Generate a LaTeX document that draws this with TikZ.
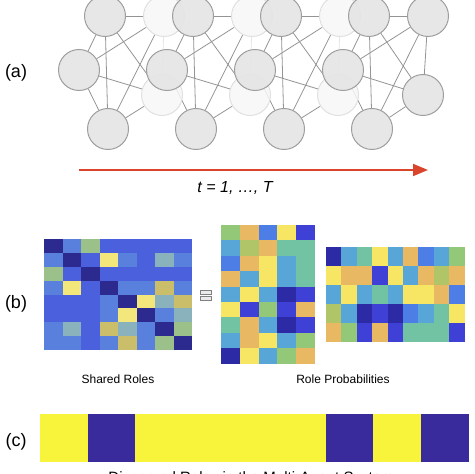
\documentclass[tikz,border=0pt]{standalone}
\usepackage{fontspec}
\setmainfont{Liberation Sans}
\usetikzlibrary{arrows.meta, backgrounds}

\definecolor{timered}{HTML}{D9442B}
\definecolor{srN}{HTML}{2C2A8E}
\definecolor{srB}{HTML}{4A60DC}
\definecolor{srL}{HTML}{5A80DE}
\definecolor{srG}{HTML}{9CC08A}
\definecolor{srA}{HTML}{8AB2BC}
\definecolor{srY}{HTML}{F3E67A}
\definecolor{srK}{HTML}{CABE6A}
\definecolor{rpN}{HTML}{2D2AA6}
\definecolor{rpV}{HTML}{3E40D6}
\definecolor{rpB}{HTML}{4C7EE6}
\definecolor{rpC}{HTML}{58A6D8}
\definecolor{rpT}{HTML}{72C2A4}
\definecolor{rpG}{HTML}{92C878}
\definecolor{rpK}{HTML}{B0C468}
\definecolor{rpO}{HTML}{E8B862}
\definecolor{rpY}{HTML}{F6E664}
\definecolor{dsY}{HTML}{F8F43C}
\definecolor{dsN}{HTML}{3A2B9C}

\begin{document}
\begin{tikzpicture}[x=0.5pt, y=-0.5pt,
    agent/.style={circle, minimum size=20.5pt, inner sep=0pt, line width=0.5pt,
      draw=black!38, fill=black!10, fill opacity=0.92},
    ghost/.style={circle, minimum size=20.5pt, inner sep=0pt, line width=0.5pt,
      draw=black!12, fill=black!3, fill opacity=0.85},
    link/.style={draw=black!42, line width=0.4pt},
    faintlink/.style={draw=black!10, line width=0.4pt},
    timeline/.style={draw=timered, line width=0.9pt, -{Triangle[length=7.5pt, width=6pt]}},
    panel/.style={font=\fontsize{9}{11}\selectfont},
    caption/.style={font=\fontsize{6}{7}\selectfont},
    eqbar/.style={draw=black!50, fill=black!8, line width=0.4pt}]
    \useasboundingbox (0,0) rectangle (474,474);

    \foreach \i in {0,1,2} {
      \node[ghost] (D\i) at (164+88*\i,16) {};
      \node[ghost] (E\i) at (162+88*\i,95) {};
    }
    \node[agent] (D3) at (428,16) {};
    \node[agent] (E3) at (423,95) {};
    \foreach \i in {0,...,3} {
      \node[agent] (A\i) at (105+88*\i,16) {};
      \node[agent] (B\i) at (79+88*\i,70) {};
      \node[agent] (C\i) at (108+88*\i,129) {};
    }
    \begin{pgfonlayer}{background}
      \foreach \i in {0,...,3}
        \foreach \p/\q in {A/B,A/C,B/C,A/D,A/E,B/D,B/E,C/D,C/E}
          \draw[link] (\p\i) -- (\q\i);
      \foreach \i in {0,1,2}
        \draw[faintlink] (D\i) -- (E\i);
      \draw[link] (D3) -- (E3);
    \end{pgfonlayer}

    \coordinate (tstart) at (79,170);
    \coordinate (tend) at (428,170);
    \draw[timeline] (tstart) -- (tend);
    \node[font=\fontsize{8}{10}\selectfont\itshape] (tlabel) at (235,188) {t = 1, …, T};

    \node[panel] (pa) at (16,73) {(a)};
    \node[panel] (pb) at (16,304) {(b)};
    \node[panel] (pc) at (16,442) {(c)};

    \foreach \row [count=\r] in {{N,L,G,B,B,B,B,B},{L,N,B,Y,L,B,A,L},{G,B,N,B,B,B,B,B},
        {L,Y,B,N,L,L,K,L},{B,B,B,L,N,Y,A,K},{B,B,B,L,Y,N,L,A},
        {L,A,B,K,A,L,N,G},{L,L,B,L,K,L,G,N}}
      \foreach \c [count=\k] in \row
        \fill[fill=sr\c] ({44+18.5*(\k-1)},{239+13.9*(\r-1)}) rectangle ++(18.7,14.1);
    \node[caption] (shared) at (118,379) {Shared Roles};

    \draw[eqbar] (200,290) rectangle (211,294);
    \draw[eqbar] (200,296) rectangle (211,300);

    \foreach \row [count=\r] in {{G,O,B,Y,V},{C,K,O,T,T},{B,O,Y,C,T},{O,C,Y,C,T},
        {C,Y,C,N,V},{Y,V,G,V,O},{T,O,C,N,V},{C,O,Y,C,G},{N,Y,C,G,O}}
      \foreach \c [count=\k] in \row
        \fill[fill=rp\c] ({221+18.8*(\k-1)},{225+15.4*(\r-1)}) rectangle ++(19,15.6);
    \foreach \row [count=\r] in {{N,C,T,Y,C,O,B,C,G},{Y,O,O,V,Y,C,O,K,O},
        {C,Y,C,T,C,Y,Y,O,B},{K,C,N,V,N,B,C,T,Y},{O,G,V,O,V,T,T,T,V}}
      \foreach \c [count=\k] in \row
        \fill[fill=rp\c] ({326+15.4*(\k-1)},{247+19*(\r-1)}) rectangle ++(15.6,19.2);
    \node[caption] (probs) at (343,379) {Role Probabilities};

    \foreach \c [count=\k] in {Y,N,Y,Y,Y,Y,N,Y,N}
      \fill[fill=ds\c] ({40+47.6*(\k-1)},414) rectangle ++(47.8,48);
    \node[font=\fontsize{7.5}{9}\selectfont, anchor=base] (system) at (251,482)
      {Dispersed Roles in the Multi-Agent System};
\end{tikzpicture}
\end{document}
